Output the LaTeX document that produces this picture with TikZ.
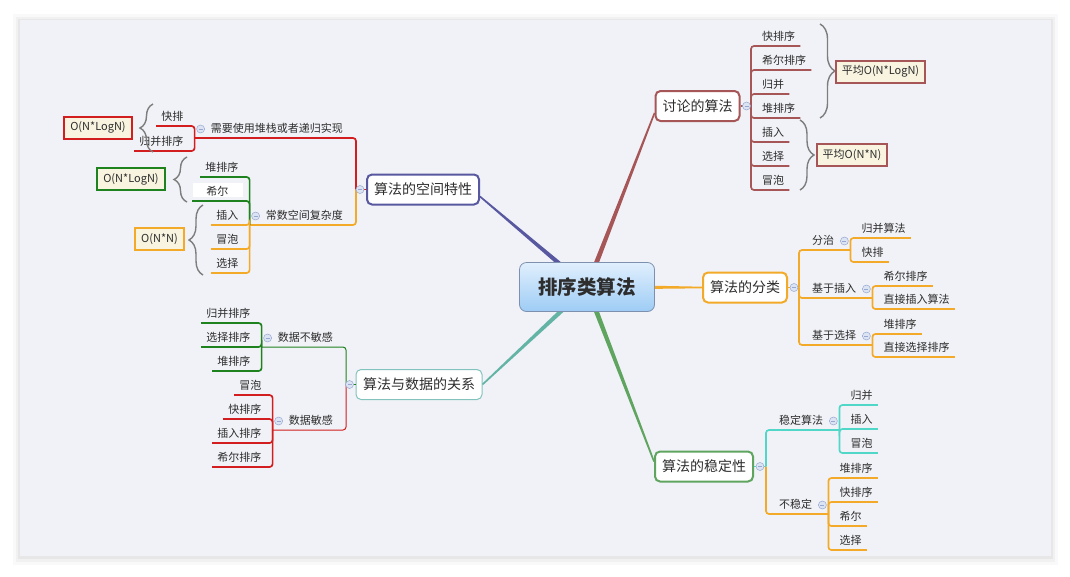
\documentclass[tikz,border=0pt]{standalone}
\usepackage{fontspec}
\setmainfont{Noto Sans CJK SC}
\usepackage{tikz}
\usetikzlibrary{calc}
\usetikzlibrary{decorations.pathreplacing}

\definecolor{panel}{RGB}{241,242,247}
\definecolor{ink}{RGB}{45,45,45}
\definecolor{cdisc}{RGB}{166,86,86}
\definecolor{cspace}{RGB}{88,88,160}
\definecolor{corange}{RGB}{242,170,40}
\definecolor{cteal}{RGB}{100,180,165}
\definecolor{ctealbox}{RGB}{130,195,190}
\definecolor{cstab}{RGB}{95,165,95}
\definecolor{cred}{RGB}{210,30,30}
\definecolor{cgreen}{RGB}{30,130,30}
\definecolor{ccyan}{RGB}{80,215,200}
\definecolor{cbrace}{RGB}{125,125,125}
\definecolor{sumfill}{RGB}{248,244,224}
\definecolor{btnfill}{RGB}{220,228,244}
\definecolor{btnline}{RGB}{150,168,208}
\definecolor{rootline}{RGB}{125,145,175}
\definecolor{roottop}{RGB}{224,239,253}
\definecolor{rootbot}{RGB}{158,204,245}

\newcommand{\taper}[3]{\fill[#1] ($(#2)!2.6pt!90:(#3)$) -- ($(#2)!2.6pt!-90:(#3)$) -- ($(#3)!0.8pt!90:(#2)$) -- ($(#3)!0.8pt!-90:(#2)$) -- cycle;}

\begin{document}
\begin{tikzpicture}[x=1pt,y=-1pt,
    root/.style={draw=rootline, line width=0.8pt, rounded corners=7pt, top color=roottop, bottom color=rootbot, minimum width=135pt, minimum height=49pt, text=ink, font=\fontsize{19.5}{22}\selectfont\bfseries},
    topic/.style={draw=#1, fill=white, line width=2pt, rounded corners=5pt, minimum height=30pt, inner xsep=7pt, inner ysep=0pt, text=ink, font=\fontsize{14}{16}\selectfont},
    label/.style={inner xsep=0pt, inner ysep=4pt, text height=8pt, text depth=1pt, text=ink, font=\fontsize{11}{13}\selectfont},
    leafR/.style={label, anchor=south west, execute at begin node={\hspace{11pt}}, execute at end node={\hspace{5pt}}},
    leafL/.style={label, anchor=south east, execute at begin node={\hspace{5pt}}, execute at end node={\hspace{11pt}}},
    midR/.style={label, anchor=south west, execute at begin node={\hspace{13pt}}, execute at end node={\hspace{16pt}}},
    midL/.style={label, anchor=south east, execute at begin node={\hspace{16pt}}, execute at end node={\hspace{13pt}}},
    twig/.style={draw=#1, line width=1.7pt, rounded corners=3pt},
    btn/.style={circle, minimum size=8pt, inner sep=0pt, fill=btnfill, draw=btnline, line width=0.5pt, path picture={\draw[btnline, line width=0.6pt] ([xshift=-2pt]path picture bounding box.center) -- ([xshift=2pt]path picture bounding box.center);}},
    sumbox/.style={draw=#1, fill=sumfill, line width=2pt, inner xsep=6pt, inner ysep=0pt, minimum height=22pt, text=ink, font=\fontsize{11}{13}\selectfont},
    brc/.style={draw=cbrace, line width=1.4pt, decorate, decoration={brace, amplitude=#1}}]

    \fill[white] (0,0) rectangle (1070,576);
    \fill[black, opacity=0.025] (13,14) rectangle (1058,565);
    \fill[black, opacity=0.03] (16,17) rectangle (1055,562);
    \fill[black, opacity=0.04] (18,19) rectangle (1053,559);
    \fill[panel] (20,20) rectangle (1051,556);
    \useasboundingbox (0,0) rectangle (1070,576);

    \node[topic=cdisc] (disc) at (697.5,106) {讨论的算法};
    \node[topic=cspace] (space) at (423,189.5) {算法的空间特性};
    \node[topic=corange] (cls) at (745,287.5) {算法的分类};
    \node[topic=ctealbox, line width=1pt] (data) at (419,384.5) {算法与数据的关系};
    \node[topic=cstab] (stab) at (704,466.5) {算法的稳定性};

    \coordinate (rc) at (587,287);
    \coordinate (discin) at ($(disc.west)+(0,7)$);
    \coordinate (spacein) at ($(space.east)+(0,7)$);
    \coordinate (stabin) at ($(stab.west)+(0,-5)$);
    \taper{cdisc}{rc}{discin}
    \taper{cspace}{rc}{spacein}
    \taper{corange}{rc}{cls.west}
    \taper{cteal}{rc}{data.east}
    \taper{cstab}{rc}{stabin}
    \node[root] (root) at (rc) {排序类算法};

    \coordinate (discj) at (751,106);
    \coordinate (spacej) at (356,189.5);
    \coordinate (clsj) at (799,287.5);
    \coordinate (dataj) at (346,384.5);
    \coordinate (stabj) at (766,466.5);

    % 讨论的算法
    \node[leafR] (d1) at (751,46) {快排序};
    \node[leafR] (d2) at (751,70) {希尔排序};
    \node[leafR] (d3) at (751,94) {归并};
    \node[leafR] (d4) at (751,118) {堆排序};
    \node[leafR] (d5) at (751,142) {插入};
    \node[leafR] (d6) at (751,166) {选择};
    \node[leafR] (d7) at (751,190) {冒泡};
    \draw[twig=cdisc] (disc.east) -- (discj);
    \draw[twig=cdisc] (discj) |- (d1.south east);
    \draw[twig=cdisc] (discj) |- (d2.south east);
    \draw[twig=cdisc] (discj) |- (d3.south east);
    \draw[twig=cdisc] (discj) |- (d4.south east);
    \draw[twig=cdisc] (discj) |- (d5.south east);
    \draw[twig=cdisc] (discj) |- (d6.south east);
    \draw[twig=cdisc] (discj) |- (d7.south east);
    \node[btn] (discb) at ($(disc.east)+(6,0)$) {};
    \draw[brc=15pt] (820,24) -- (820,118);
    \node[sumbox=cdisc] (avg1) at (880.5,71.5) {平均O(N*LogN)};
    \draw[brc=14pt] (800,120) -- (800,190);
    \node[sumbox=cdisc] (avg2) at (852,155) {平均O(N*N)};

    % 算法的空间特性
    \node[midL] (sp1) at (356,138) {需要使用堆栈或者递归实现};
    \node[midL] (sp2) at (356,225) {常数空间复杂度};
    \draw[twig=cred] (space.west) -- (spacej);
    \draw[twig=cred] (spacej) |- (sp1.south west);
    \draw[twig=corange] (spacej) |- (sp2.south west);
    \node[btn] (spaceb) at ($(space.west)+(-6,0)$) {};
    \node[btn] (sp1b) at ($(sp1.south west)+(6,-9)$) {};
    \node[btn] (sp2b) at ($(sp2.south west)+(6,-9)$) {};
    \node[leafL] (sp11) at (sp1.south west |- 0,126) {快排};
    \node[leafL] (sp12) at (sp1.south west |- 0,151) {归并排序};
    \draw[twig=cred] (sp1.south west) |- (sp11.south west);
    \draw[twig=cred] (sp1.south west) |- (sp12.south west);
    \fill[white] (193,183) rectangle (243,197);
    \node[leafL] (sp21) at (sp2.south west |- 0,177) {堆排序};
    \node[leafL, execute at begin node={\hspace{9pt}}, execute at end node={\hspace{10pt}}] (sp22) at (sp2.south west |- 0,201) {希尔};
    \node[leafL] (sp23) at (sp2.south west |- 0,225) {插入};
    \node[leafL] (sp24) at (sp2.south west |- 0,249) {冒泡};
    \node[leafL] (sp25) at (sp2.south west |- 0,273) {选择};
    \draw[twig=cgreen] (sp2.south west) |- (sp21.south west);
    \draw[twig=cgreen] (sp2.south west) |- (sp22.south west);
    \draw[twig=corange] (sp2.south west) |- (sp23.south west);
    \draw[twig=corange] (sp2.south west) |- (sp24.south west);
    \draw[twig=corange] (sp2.south west) |- (sp25.south west);
    \draw[brc=13pt] (153,152) -- (153,104);
    \node[sumbox=cred] (cost1) at (98,127.5) {O(N*LogN)};
    \draw[brc=13pt] (187,202) -- (187,157);
    \node[sumbox=cgreen] (cost2) at (131,179) {O(N*LogN)};
    \draw[brc=14pt] (203,275) -- (203,205);
    \node[sumbox=corange] (cost3) at (159.5,239) {O(N*N)};

    % 算法的分类
    \node[midR] (cl1) at (799,250) {分治};
    \node[midR] (cl2) at (799,298) {基于插入};
    \node[midR] (cl3) at (799,345) {基于选择};
    \draw[twig=corange] (cls.east) -- (clsj);
    \draw[twig=corange] (clsj) |- (cl1.south east);
    \draw[twig=corange] (clsj) |- (cl2.south east);
    \draw[twig=corange] (clsj) |- (cl3.south east);
    \node[btn] (clsb) at ($(cls.east)+(6,0)$) {};
    \node[btn] (cl1b) at ($(cl1.south east)+(-6,-9)$) {};
    \node[btn] (cl2b) at ($(cl2.south east)+(-6,-9)$) {};
    \node[btn] (cl3b) at ($(cl3.south east)+(-6,-9)$) {};
    \node[leafR] (cl11) at (cl1.south east |- 0,238) {归并算法};
    \node[leafR] (cl12) at (cl1.south east |- 0,262) {快排};
    \node[leafR] (cl21) at (cl2.south east |- 0,286) {希尔排序};
    \node[leafR] (cl22) at (cl2.south east |- 0,309) {直接插入算法};
    \node[leafR] (cl31) at (cl3.south east |- 0,334) {堆排序};
    \node[leafR] (cl32) at (cl3.south east |- 0,357) {直接选择排序};
    \draw[twig=corange] (cl1.south east) |- (cl11.south east);
    \draw[twig=corange] (cl1.south east) |- (cl12.south east);
    \draw[twig=corange] (cl2.south east) |- (cl21.south east);
    \draw[twig=corange] (cl2.south east) |- (cl22.south east);
    \draw[twig=corange] (cl3.south east) |- (cl31.south east);
    \draw[twig=corange] (cl3.south east) |- (cl32.south east);

    % 算法与数据的关系
    \node[midL] (da1) at (346,347) {数据不敏感};
    \node[midL] (da2) at (346,430) {数据敏感};
    \draw[twig=cgreen, line width=1pt] (data.west) -- (dataj);
    \draw[twig=cgreen, line width=1pt] (dataj) |- (da1.south west);
    \draw[twig=cred, line width=1pt] (dataj) |- (da2.south west);
    \node[btn] (datab) at ($(data.west)+(-6,0)$) {};
    \node[btn] (da1b) at ($(da1.south west)+(6,-9)$) {};
    \node[btn] (da2b) at ($(da2.south west)+(6,-9)$) {};
    \node[leafL] (da11) at (da1.south west |- 0,323) {归并排序};
    \node[leafL] (da12) at (da1.south west |- 0,347) {选择排序};
    \node[leafL] (da13) at (da1.south west |- 0,371) {堆排序};
    \draw[twig=cgreen] (da1.south west) |- (da11.south west);
    \draw[twig=cgreen] (da1.south west) |- (da12.south west);
    \draw[twig=cgreen] (da1.south west) |- (da13.south west);
    \node[leafL] (da21) at (da2.south west |- 0,395) {冒泡};
    \node[leafL] (da22) at (da2.south west |- 0,419) {快排序};
    \node[leafL] (da23) at (da2.south west |- 0,443) {插入排序};
    \node[leafL] (da24) at (da2.south west |- 0,467) {希尔排序};
    \draw[twig=cred] (da2.south west) |- (da21.south west);
    \draw[twig=cred] (da2.south west) |- (da22.south west);
    \draw[twig=cred] (da2.south west) |- (da23.south west);
    \draw[twig=cred] (da2.south west) |- (da24.south west);

    % 算法的稳定性
    \node[midR] (st1) at (766,430) {稳定算法};
    \node[midR] (st2) at (766,514) {不稳定};
    \draw[twig=ccyan] (stab.east) -- (stabj);
    \draw[twig=ccyan] (stabj) |- (st1.south east);
    \draw[twig=corange] (stabj) |- (st2.south east);
    \node[btn] (stabb) at ($(stab.east)+(6,0)$) {};
    \node[btn] (st1b) at ($(st1.south east)+(-6,-9)$) {};
    \node[btn] (st2b) at ($(st2.south east)+(-6,-9)$) {};
    \node[leafR] (st11) at (st1.south east |- 0,405) {归并};
    \node[leafR] (st12) at (st1.south east |- 0,429) {插入};
    \node[leafR] (st13) at (st1.south east |- 0,453) {冒泡};
    \draw[twig=ccyan] (st1.south east) |- (st11.south east);
    \draw[twig=ccyan] (st1.south east) |- (st12.south east);
    \draw[twig=ccyan] (st1.south east) |- (st13.south east);
    \node[leafR] (st21) at (st2.south east |- 0,478) {堆排序};
    \node[leafR] (st22) at (st2.south east |- 0,502) {快排序};
    \node[leafR] (st23) at (st2.south east |- 0,526) {希尔};
    \node[leafR] (st24) at (st2.south east |- 0,550) {选择};
    \draw[twig=corange] (st2.south east) |- (st21.south east);
    \draw[twig=corange] (st2.south east) |- (st22.south east);
    \draw[twig=corange] (st2.south east) |- (st23.south east);
    \draw[twig=corange] (st2.south east) |- (st24.south east);
\end{tikzpicture}
\end{document}
